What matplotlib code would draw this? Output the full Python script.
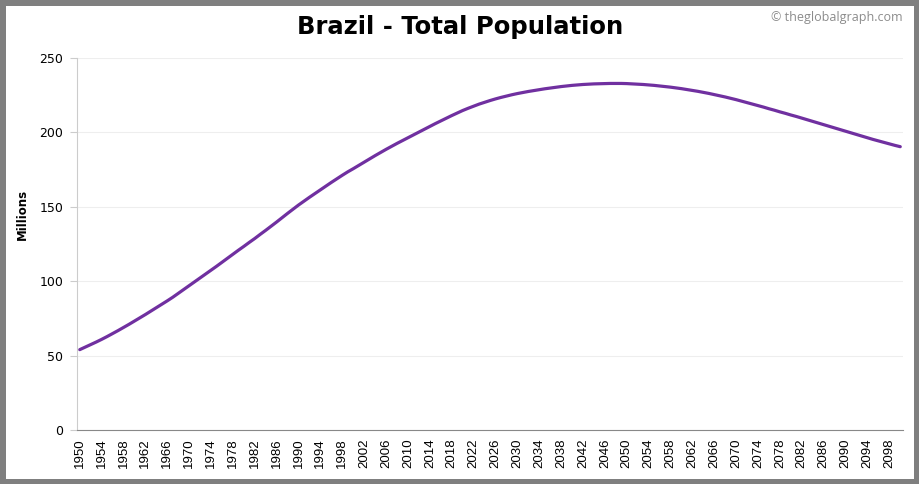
import matplotlib
matplotlib.use("Agg")
import matplotlib.pyplot as plt

years = list(range(1950, 2101))

# Brazil, total population (millions)
population = [
    54.0, 55.7, 57.4, 59.1, 60.9, 62.8, 64.8, 66.8, 68.9, 71.0,      # 1950s
    73.2, 75.4, 77.6, 79.9, 82.2, 84.5, 86.8, 89.2, 91.8, 94.4,      # 1960s
    97.0, 99.6, 102.2, 104.8, 107.4, 110.0, 112.7, 115.4, 118.1, 120.8,  # 1970s
    123.4, 126.1, 128.7, 131.5, 134.2, 137.0, 139.8, 142.7, 145.6, 148.4,  # 1980s
    151.2, 153.8, 156.4, 158.9, 161.4, 163.9, 166.4, 168.8, 171.2, 173.5,  # 1990s
    175.6, 177.8, 180.0, 182.2, 184.4, 186.5, 188.6, 190.6, 192.6, 194.5,  # 2000s
    196.4, 198.3, 200.2, 202.1, 204.0, 205.9, 207.7, 209.5, 211.3, 213.0,  # 2010s
    214.7, 216.2, 217.6, 219.0, 220.2, 221.4, 222.5, 223.5, 224.4, 225.3,  # 2020s
    226.1, 226.8, 227.5, 228.1, 228.7, 229.3, 229.8, 230.3, 230.8, 231.2,  # 2030s
    231.6, 231.9, 232.2, 232.4, 232.6, 232.7, 232.8, 232.9, 232.9, 232.9,  # 2040s
    232.8, 232.6, 232.4, 232.2, 231.9, 231.6, 231.2, 230.8, 230.4, 229.9,  # 2050s
    229.4, 228.8, 228.2, 227.6, 226.9, 226.2, 225.4, 224.6, 223.8, 222.9,  # 2060s
    222.0, 221.0, 220.0, 219.0, 218.0, 217.0, 215.9, 214.9, 213.8, 212.8,  # 2070s
    211.7, 210.7, 209.6, 208.5, 207.4, 206.3, 205.2, 204.1, 203.0, 201.9,  # 2080s
    200.8, 199.7, 198.6, 197.5, 196.4, 195.3, 194.3, 193.3, 192.3, 191.3,  # 2090s
    190.4,                                                           # 2100
]

y_ticks = [0, 50, 100, 150, 200, 250]
tick_years = years[::4]

W, H = 919, 484
fig = plt.figure(figsize=(W / 100, H / 100), dpi=100)
fig.patch.set_facecolor("white")
fig.patch.set_edgecolor("#7f7f7f")
fig.patch.set_linewidth(6.5)

ax = fig.add_axes([77 / W, 1 - 430 / H, (903 - 77) / W, (430 - 58) / H])

idx = list(range(len(years)))
ax.plot(idx, population, color="#7030a0", linewidth=2.3, solid_capstyle="round")

ax.set_xlim(-0.5, len(years) - 0.5)
ax.set_ylim(0, 250)
ax.set_yticks(y_ticks)
ax.set_yticklabels([str(v) for v in y_ticks], fontsize=9, fontfamily="DejaVu Sans")
ax.set_xticks([years.index(y) for y in tick_years])
ax.set_xticklabels([str(y) for y in tick_years], rotation=90,
                   fontsize=9.5, fontfamily="Liberation Sans")

ax.grid(axis="y", color="#eeeeee", linewidth=0.8)
ax.set_axisbelow(True)
for side in ("top", "right"):
    ax.spines[side].set_visible(False)
ax.spines["left"].set_color("#cccccc")
ax.spines["bottom"].set_color("#888888")
ax.tick_params(axis="y", length=5, color="#cccccc", pad=5)
ax.tick_params(axis="x", length=0, pad=6)

fig.text(460 / W, 1 - 27 / H, "Brazil - Total Population", ha="center", va="center",
         fontsize=17.5, fontweight="bold", fontfamily="DejaVu Sans")
fig.text(903 / W, 1 - 17 / H, "\u00a9 theglobalgraph.com", ha="right", va="center",
         fontsize=9, color="#8c8c8c", fontfamily="Open Sans")
fig.text(22 / W, 1 - 214 / H, "Millions", rotation=90, ha="center", va="center",
         fontsize=8.5, fontweight="bold", fontfamily="DejaVu Sans")

fig.savefig("out.png", dpi=100)
